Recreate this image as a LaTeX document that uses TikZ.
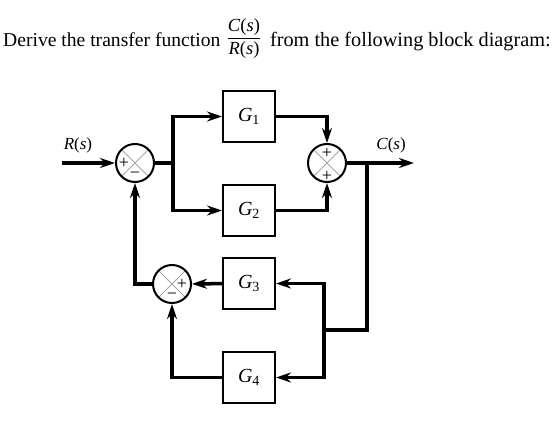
\documentclass[tikz,border=0pt]{standalone}
\usepackage{amsmath}
\usepackage{fontspec}
\setmainfont{Liberation Serif}
\usetikzlibrary{arrows.meta,positioning}
\tikzset{
  %Define standard arrow tip
  >={Stealth[length=15pt,width=10pt]},
  %Define style for blocks
  block/.style={
    rectangle,
    draw=black, line width=2pt,
    minimum width=52pt,
    minimum height=51pt,
    inner sep=0pt,
    font=\fontsize{20}{22}\selectfont},
  %Define style for summing points
  summer/.style={
    circle,
    draw=black, line width=2pt,
    minimum size=38pt,
    inner sep=0pt,
    path picture={
      \draw[gray!70, line width=0.8pt]
        (path picture bounding box.north west) -- (path picture bounding box.south east)
        (path picture bounding box.north east) -- (path picture bounding box.south west);}},
  sign/.style={font=\fontsize{18}{18}\selectfont, inner sep=0pt},
  % Define signal line styles
  sig/.style={line width=3.5pt},
  pil/.style={->, line width=3.5pt}
}

\begin{document}
\begin{tikzpicture}[x=1pt,y=-1pt]
  \useasboundingbox (0,0) rectangle (555,434);
  % title
  \node[anchor=base west, inner sep=0pt, font=\fontsize{19.6}{24}\selectfont] (lead) at (3,46) {Derive the transfer function};
  \node[inner sep=0pt, font=\fontsize{18.5}{22}\selectfont] (ratio) at (244,38.5) {$\dfrac{\text{\textit{C}(\textit{s})}}{\text{\textit{R}(\textit{s})}}$};
  \node[anchor=base east, inner sep=0pt, font=\fontsize{20.3}{24}\selectfont] (tail) at (551,46) {from the following block diagram:};
  % blocks
  \node[block] (G1) at (249,116.5) {\textit{G}\textsubscript{1}};
  \node[block, below=41pt of G1] (G2) {\textit{G}\textsubscript{2}};
  \node[block, below=20pt of G2] (G3) {\textit{G}\textsubscript{3}};
  \node[block, below=41pt of G3] (G4) {\textit{G}\textsubscript{4}};
  % summing points
  \node[summer] (sum1) at (135,163) {};
  \node[summer] (sum2) at (327,163) {};
  \node[summer] (sum3) at (172,284) {};
  \node[sign] (s1a) at ([xshift=-11pt]sum1.center) {+};
  \node[sign] (s1b) at ([yshift=-12pt]sum1.center) {−};
  \node[sign] (s2a) at ([yshift=10pt]sum2.center) {+};
  \node[sign] (s2b) at ([yshift=-13pt]sum2.center) {+};
  \node[sign] (s3a) at ([xshift=10pt]sum3.center) {+};
  \node[sign] (s3b) at ([yshift=-12pt]sum3.center) {−};
  % branch points and ends
  \coordinate (in) at (62,163);
  \coordinate (out) at (414,163);
  \coordinate (split1) at (173,163);
  \coordinate (split2) at (367,163);
  \coordinate (split3) at (324,330);
  \node[font=\fontsize{17}{18}\selectfont] (R) at (78,145) {\textit{R}(\textit{s})};
  \node[font=\fontsize{17}{18}\selectfont] (C) at (391,145) {\textit{C}(\textit{s})};
  % connections
  \draw[pil] (in) -- (sum1);
  \draw[sig] (sum1) -- (split1);
  \draw[pil] (split1) |- (G1);
  \draw[pil] (split1) |- (G2);
  \draw[pil] (G1) -| (sum2);
  \draw[pil] (G2) -| (sum2);
  \draw[pil] (sum2) -- (out);
  \draw[sig] (split2) |- (split3);
  \draw[pil] (split3) |- (G3);
  \draw[pil] (split3) |- (G4);
  \draw[pil] (G3) -- (sum3);
  \draw[pil] (G4) -| (sum3);
  \draw[pil] (sum3) -| (sum1);
\end{tikzpicture}
\end{document}
